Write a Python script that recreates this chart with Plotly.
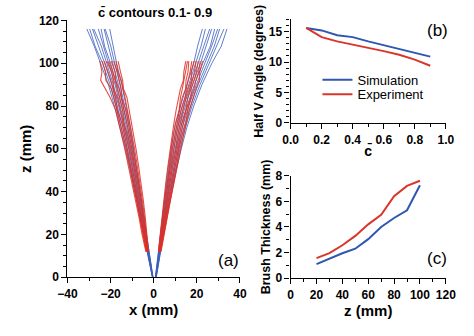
import plotly.graph_objects as go

# ---------------- panel (b): half V angle vs c-bar ----------------
c_levels = [0.1, 0.2, 0.3, 0.4, 0.5, 0.6, 0.7, 0.8, 0.9]
angle_sim = [15.6, 15.2, 14.4, 14.1, 13.4, 12.8, 12.2, 11.5, 10.9]
angle_exp = [15.6, 14.1, 13.4, 12.9, 12.4, 11.8, 11.2, 10.4, 9.4]

# ---------------- panel (c): brush thickness vs z ----------------
z_brush = [20, 30, 40, 50, 60, 70, 80, 90, 100]
brush_sim = [1.1, 1.55, 1.95, 2.3, 3.05, 4.0, 4.7, 5.3, 7.25]
brush_exp = [1.57, 1.95, 2.57, 3.3, 4.2, 4.94, 6.4, 7.2, 7.6]

# ---------------- panel (a): c-bar contours, x (mm) at each z (mm) ----------------
# rows run from c = 0.1 (outer) to c = 0.9 (inner)
z_sim = [0, 10, 20, 30, 40, 50, 60, 70, 80, 90, 100, 108, 116]
sim_right = [
    [1.2, 2.8, 4.6, 6.4, 8.4, 10.5, 12.8, 15.4, 18.6, 22.4, 27.0, 31.4, 34.0],
    [1.15, 2.7, 4.4, 6.1, 8.0, 10.0, 12.2, 14.7, 17.8, 21.5, 25.9, 29.4, 32.6],
    [1.1, 2.6, 4.2, 5.8, 7.6, 9.5, 11.6, 14.0, 17.05, 20.65, 24.9, 28.15, 30.6],
    [1.05, 2.45, 4.0, 5.55, 7.25, 9.05, 11.0, 13.3, 16.3, 19.8, 23.85, 26.9, 29.7],
    [1.0, 2.35, 3.8, 5.25, 6.85, 8.55, 10.4, 12.6, 15.5, 18.9, 22.8, 26.3, 28.3],
    [0.95, 2.25, 3.6, 4.95, 6.45, 8.05, 9.8, 11.9, 14.7, 18.0, 21.75, 24.5, 26.9],
    [0.9, 2.15, 3.4, 4.65, 6.05, 7.55, 9.2, 11.2, 13.95, 17.15, 20.7, 23.25, 26.0],
    [0.85, 2.0, 3.2, 4.4, 5.7, 7.1, 8.6, 10.5, 13.2, 16.3, 19.65, 22.0, 24.0],
    [0.8, 1.9, 3.0, 4.1, 5.3, 6.6, 8.0, 9.8, 12.4, 15.4, 18.6, 20.4, 22.6],
]
sim_left = [
    [-0.6, -2.6, -4.6, -6.6, -8.7, -10.9, -13.2, -15.6, -18.2, -21.0, -24.6, -27.6, -31.0],
    [-0.55, -2.5, -4.4, -6.35, -8.35, -10.5, -12.7, -15.0, -17.5, -20.2, -23.7, -27.2, -29.7],
    [-0.5, -2.4, -4.25, -6.1, -8.0, -10.05, -12.15, -14.4, -16.85, -19.45, -22.75, -25.4, -28.4],
    [-0.5, -2.3, -4.1, -5.85, -7.7, -9.6, -11.6, -13.8, -16.2, -18.7, -21.8, -24.3, -27.8],
    [-0.45, -2.2, -3.9, -5.6, -7.35, -9.2, -11.1, -13.2, -15.5, -17.9, -20.9, -23.2, -25.7],
    [-0.4, -2.1, -3.75, -5.35, -7.0, -8.8, -10.6, -12.6, -14.8, -17.1, -20.0, -22.8, -24.4],
    [-0.4, -2.0, -3.55, -5.1, -6.7, -8.35, -10.05, -12.0, -14.1, -16.35, -19.0, -21.0, -23.0],
    [-0.35, -1.9, -3.4, -4.85, -6.35, -7.9, -9.5, -11.4, -13.45, -15.6, -18.1, -19.9, -22.5],
    [-0.3, -1.8, -3.2, -4.6, -6.0, -7.5, -9.0, -10.8, -12.8, -14.8, -17.2, -18.8, -20.4],
]

z_exp = [12, 20, 28, 36, 44, 52, 60, 66, 72, 78, 84, 88, 92, 96, 101]
exp_right = [
    [3.4, 5.0, 6.3, 7.8, 9.4, 10.9, 12.4, 13.8, 15.2, 16.6, 18.4, 19.6, 21.2, 21.4, 22.7],
    [3.25, 4.75, 6.0, 7.4, 8.9, 10.7, 11.8, 13.1, 14.9, 15.8, 17.2, 18.7, 19.6, 20.9, 21.6],
    [3.1, 4.5, 5.7, 7.0, 8.45, 9.8, 11.2, 12.45, 13.75, 15.05, 17.3, 17.4, 18.75, 19.85, 20.7],
    [2.95, 4.25, 5.35, 6.6, 8.0, 9.3, 10.6, 11.8, 13.0, 14.9, 15.85, 16.9, 17.8, 18.9, 19.7],
    [2.8, 4.0, 5.05, 6.2, 7.5, 8.75, 10.3, 11.1, 12.3, 13.5, 15.0, 16.0, 17.5, 17.5, 18.7],
    [2.65, 3.75, 4.75, 5.8, 7.0, 8.2, 9.4, 10.4, 11.6, 12.7, 14.7, 15.1, 15.95, 16.9, 17.7],
    [2.5, 3.5, 4.4, 5.4, 6.55, 7.7, 8.8, 9.75, 10.85, 11.95, 13.3, 14.8, 15.0, 15.95, 16.3],
    [2.35, 3.25, 4.1, 5.0, 6.3, 7.15, 8.2, 9.1, 10.1, 11.8, 12.45, 13.3, 14.1, 15.0, 15.7],
    [2.2, 3.0, 3.8, 4.6, 5.6, 6.6, 7.6, 8.4, 9.4, 10.4, 11.6, 12.4, 13.8, 14.0, 14.9],
]
exp_left = [
    [-3.6, -5.4, -6.8, -8.4, -10.0, -11.6, -13.4, -14.8, -16.2, -17.6, -20.2, -22.4, -24.6, -24.0, -25.0],
    [-3.45, -5.1, -6.45, -7.95, -9.5, -11.0, -12.75, -14.1, -15.45, -16.8, -18.5, -19.6, -22.2, -22.4, -23.9],
    [-3.3, -4.8, -6.1, -7.5, -8.95, -10.45, -12.1, -13.4, -14.7, -16.8, -17.65, -18.7, -19.9, -21.2, -22.9],
    [-3.15, -4.5, -5.7, -7.05, -8.4, -9.9, -11.45, -12.7, -13.95, -15.2, -16.8, -18.6, -18.8, -19.5, -21.8],
    [-3.0, -4.2, -5.35, -6.6, -7.9, -9.3, -10.8, -12.0, -13.8, -14.4, -15.9, -16.9, -17.8, -19.0, -20.8],
    [-2.85, -3.9, -5.0, -6.15, -7.4, -8.7, -10.15, -11.3, -12.45, -13.6, -15.05, -16.0, -17.6, -17.9, -19.7],
    [-2.7, -3.6, -4.6, -5.7, -6.85, -8.15, -9.5, -10.6, -11.7, -12.8, -14.9, -15.1, -15.8, -16.8, -18.6],
    [-2.55, -3.3, -4.25, -5.25, -6.3, -7.6, -8.85, -9.9, -10.95, -12.0, -13.3, -14.2, -15.0, -16.6, -17.5],
    [-2.4, -3.0, -3.9, -4.8, -5.8, -7.0, -8.2, -9.2, -10.2, -11.2, -12.4, -14.0, -14.4, -15.4, -16.5],
]

BLUE = "#2f56b0"
RED = "#d8362b"
BLUE_C = "rgba(60,95,190,0.9)"
RED_C = "rgba(222,48,38,0.85)"
FONT = "Liberation Sans, Arial, sans-serif"

W, H = 474, 336


def px_x(a, b):
    return [a / W, b / W]


def px_y(top, bottom):
    return [(H - bottom) / H, (H - top) / H]


fig = go.Figure()

# contours (a)
for xs in sim_right + sim_left:
    fig.add_trace(go.Scatter(x=xs, y=z_sim, mode="lines", xaxis="x", yaxis="y",
                             line=dict(color=BLUE_C, width=0.9), showlegend=False,
                             hoverinfo="skip"))
for xs in exp_right + exp_left:
    fig.add_trace(go.Scatter(x=xs, y=z_exp, mode="lines", xaxis="x", yaxis="y",
                             line=dict(color=RED_C, width=1.1), showlegend=False,
                             hoverinfo="skip"))

# half V angle (b)
fig.add_trace(go.Scatter(x=c_levels, y=angle_sim, mode="lines", name="Simulation",
                         legend="legend", xaxis="x2", yaxis="y2",
                         line=dict(color=BLUE, width=2)))
fig.add_trace(go.Scatter(x=c_levels, y=angle_exp, mode="lines", name="Experiment",
                         legend="legend2", xaxis="x2", yaxis="y2",
                         line=dict(color=RED, width=2)))

# brush thickness (c)
fig.add_trace(go.Scatter(x=z_brush, y=brush_exp, mode="lines", showlegend=False,
                         xaxis="x3", yaxis="y3", line=dict(color=RED, width=2)))
fig.add_trace(go.Scatter(x=z_brush, y=brush_sim, mode="lines", showlegend=False,
                         xaxis="x3", yaxis="y3", line=dict(color=BLUE, width=2)))

tick_font = dict(family=FONT, size=12, color="black", weight="bold")
axis_common = dict(showline=True, linecolor="black", linewidth=1.3, showgrid=False,
                   zeroline=False, ticks="outside", ticklen=5, tickwidth=1.2,
                   tickcolor="black", tickfont=tick_font, fixedrange=True)


def minor(step):
    return dict(dtick=step, ticks="outside", ticklen=3, tickwidth=1, tickcolor="black")


def title(text, size, standoff):
    return dict(text=text, standoff=standoff,
                font=dict(family=FONT, size=size, color="black", weight="bold"))


legend_common = dict(xanchor="left", yanchor="middle", bgcolor="rgba(0,0,0,0)",
                     borderwidth=0, itemwidth=30,
                     font=dict(family=FONT, size=13, color="black"))

fig.update_layout(
    width=W, height=H,
    margin=dict(l=0, r=0, t=0, b=0),
    paper_bgcolor="white", plot_bgcolor="white",
    font=dict(family=FONT, color="black"),
    xaxis=dict(domain=px_x(60, 240), range=[-40, 40], anchor="y", dtick=20,
               minor=minor(10), title=title("x (mm)", 15, 1), **axis_common),
    yaxis=dict(domain=px_y(14, 282), range=[0, 120], anchor="x", dtick=20,
               minor=minor(5), title=title("z (mm)", 15, 3), **axis_common),
    xaxis2=dict(domain=px_x(293, 455), range=[0, 1], anchor="y2", dtick=0.2,
                tickformat=".1f", minor=minor(0.1), title=title("c\u0304", 14, 0),
                **axis_common),
    yaxis2=dict(domain=px_y(13, 121), range=[0, 17], anchor="x2", dtick=5,
                minor=minor(1), title=title("Half V Angle (degrees)", 12.5, 2),
                **axis_common),
    xaxis3=dict(domain=px_x(293, 455), range=[0, 120], anchor="y3", dtick=20,
                minor=minor(10), title=title("z (mm)", 15, 1), **axis_common),
    yaxis3=dict(domain=px_y(176, 283), range=[0, 8], anchor="x3", dtick=2,
                minor=minor(1), title=title("Brush Thickness (mm)", 12.5, 2),
                **axis_common),
    legend=dict(x=321 / W, y=(H - 76) / H, **legend_common),
    legend2=dict(x=321 / W, y=(H - 91) / H, **legend_common),
    annotations=[
        dict(text="<b>c\u0304 contours 0.1- 0.9</b>", x=151 / W, y=(H - 6) / H,
             xref="paper", yref="paper", showarrow=False, xanchor="center",
             yanchor="middle", font=dict(family=FONT, size=13, color="black")),
        dict(text="(a)", x=228 / W, y=(H - 264) / H, xref="paper", yref="paper",
             showarrow=False, xanchor="center", yanchor="middle",
             font=dict(family=FONT, size=17, color="black")),
        dict(text="(b)", x=446 / W, y=(H - 25) / H, xref="paper", yref="paper",
             showarrow=False, xanchor="center", yanchor="middle",
             font=dict(family=FONT, size=17, color="black")),
        dict(text="(c)", x=446 / W, y=(H - 262) / H, xref="paper", yref="paper",
             showarrow=False, xanchor="center", yanchor="middle",
             font=dict(family=FONT, size=17, color="black")),
    ],
)

fig.write_html("out.html")
